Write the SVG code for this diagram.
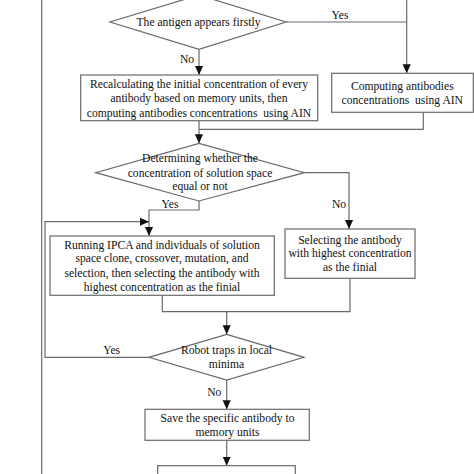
<svg xmlns="http://www.w3.org/2000/svg" width="474" height="474" viewBox="0 0 474 474">
<style>
.s{fill:#fff;stroke:#6a6a6a;stroke-width:1.2}
.c{fill:none;stroke:#6a6a6a;stroke-width:1.2}
text{font-family:"Liberation Serif","Times New Roman",serif;font-size:11.6px;fill:#111;text-anchor:middle;white-space:pre}
</style>
<defs>
<marker id="a" viewBox="0 0 10 10" refX="10" refY="5" markerWidth="9" markerHeight="9" markerUnits="userSpaceOnUse" orient="auto">
<path d="M0,0.5 L10,5 L0,9.5 z" fill="#111"/>
</marker>
</defs>
<rect width="474" height="474" fill="#fff"/>
<g id="connectors">
<line class="c" x1="41.7" y1="0" x2="41.7" y2="474"/>
<polyline class="c" points="286,22 406.7,22"/>
<line class="c" x1="406.7" y1="0" x2="406.7" y2="73.3" marker-end="url(#a)"/>
<line class="c" x1="199" y1="49.3" x2="199" y2="75" marker-end="url(#a)"/>
<line class="c" x1="199" y1="120.7" x2="199" y2="143.3" marker-end="url(#a)"/>
<polyline class="c" points="423.3,112.3 423.3,129.3 199,129.3"/>
<polyline class="c" points="199,201 199,210 149,210 149,236" marker-end="url(#a)"/>
<polyline class="c" points="304.3,172.7 349,172.7 349,229" marker-end="url(#a)"/>
<polyline class="c" points="149,357.3 45,357.3 45,221.7 149,221.7" marker-end="url(#a)"/>
<polyline class="c" points="162.3,295.3 162.3,311.7 350,311.7 350,278.3"/>
<line class="c" x1="226.7" y1="311.7" x2="226.7" y2="334.3" marker-end="url(#a)"/>
<line class="c" x1="226.7" y1="380" x2="226.7" y2="409.3" marker-end="url(#a)"/>
<line class="c" x1="226.7" y1="440.3" x2="226.7" y2="465.7" marker-end="url(#a)"/>
<text x="340" y="19">Yes</text>
<text x="187" y="63">No</text>
<text x="170" y="208">Yes</text>
<text x="339" y="208">No</text>
<text x="111.7" y="354">Yes</text>
<text x="214.3" y="396">No</text>
</g>
<g id="d1">
<polygon class="s" points="199,-5 286,22 199,49.3 110,22"/>
<text x="198.5" y="26">The antigen appears firstly</text>
</g>
<g id="b1">
<rect class="s" x="80.7" y="75" width="237" height="45.7"/>
<text x="199" y="88">Recalculating the initial concentration of every</text>
<text x="199" y="102.3">antibody based on memory units, then</text>
<text x="199" y="116.7" xml:space="preserve">computing antibodies concentrations  using AIN</text>
</g>
<g id="b2">
<rect class="s" x="331.7" y="73.3" width="141.6" height="39"/>
<text x="402.3" y="90">Computing antibodies</text>
<text x="402.3" y="104" xml:space="preserve">concentrations  using AIN</text>
</g>
<g id="d2">
<polygon class="s" points="199,143.3 304.3,172.7 199,201 95.7,172.7"/>
<text x="200" y="162.3">Determining whether the</text>
<text x="200" y="176.7">concentration of solution space</text>
<text x="200" y="190">equal or not</text>
</g>
<g id="b3">
<rect class="s" x="50" y="236" width="224.3" height="59.3"/>
<text x="162" y="249">Running IPCA and individuals of solution</text>
<text x="162" y="262.3">space clone, crossover, mutation, and</text>
<text x="162" y="276.7">selection, then selecting the antibody with</text>
<text x="162" y="290.7">highest concentration as the finial</text>
</g>
<g id="b4">
<rect class="s" x="285" y="229" width="130" height="49.3"/>
<text x="350" y="244">Selecting the antibody</text>
<text x="350" y="257.3">with highest concentration</text>
<text x="350" y="271.3">as the finial</text>
</g>
<g id="d3">
<polygon class="s" points="226.7,334.3 304,357.3 226.7,380 149,357.3"/>
<text x="226.5" y="354">Robot traps in local</text>
<text x="226.5" y="368">minima</text>
</g>
<g id="b5">
<rect class="s" x="145" y="409.3" width="164.3" height="31"/>
<text x="227.5" y="421.7">Save the specific antibody to</text>
<text x="227.5" y="436.3">memory units</text>
</g>
<g id="b6">
<rect class="s" x="157.7" y="465.7" width="137.6" height="20"/>
</g>
</svg>
